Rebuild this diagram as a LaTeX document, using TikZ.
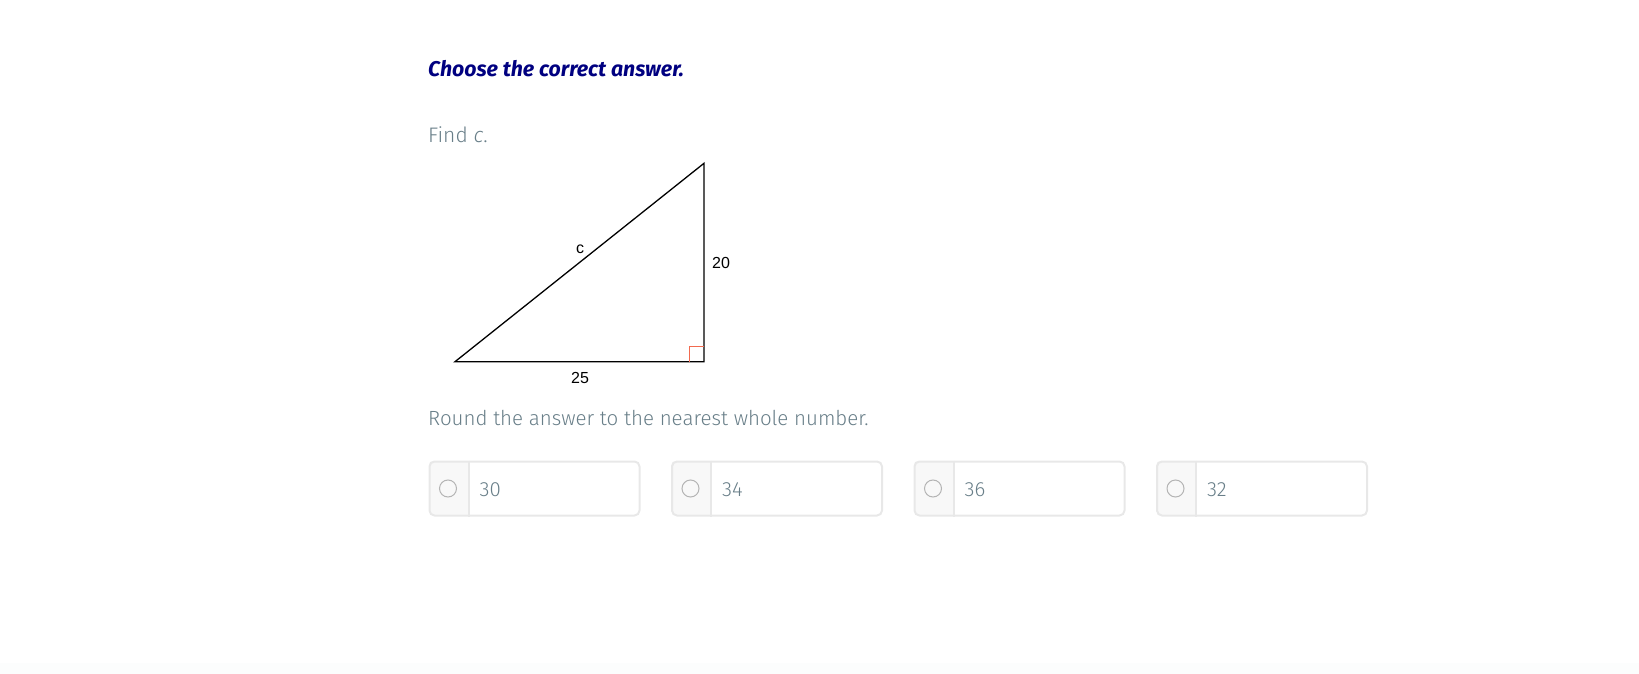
\documentclass[tikz,border=0pt]{standalone}
\usepackage{fontspec}
\setmainfont{Fira Sans}[UprightFont=* Light, ItalicFont=* Light Italic]
\newfontfamily\headfont{Fira Sans}
\newfontfamily\labelfont{Liberation Sans}
\definecolor{navy}{HTML}{000080}
\definecolor{slate}{HTML}{687E88}
\definecolor{boxline}{HTML}{E8E8E8}
\definecolor{cellfill}{HTML}{F8F8F8}
\definecolor{radioline}{HTML}{B4B4B4}
\definecolor{anglered}{HTML}{F26A4F}
\definecolor{footfill}{HTML}{FCFDFD}
\tikzset{
  prompt/.style={anchor=base west, inner sep=0pt, text=slate, font=\fontsize{21}{25}\selectfont},
  sidelabel/.style={anchor=base, inner sep=0pt, font=\labelfont\fontsize{16}{19}\selectfont},
  choicebox/.style={draw=boxline, line width=2pt, rounded corners=5pt, minimum width=210pt, minimum height=54pt, anchor=north west, inner sep=0pt},
  radio/.style={circle, draw=radioline, line width=1pt, minimum size=17pt, inner sep=0pt},
  choicetext/.style={anchor=base west, inner sep=0pt, text=slate, font=\fontsize{20.5}{24}\selectfont}
}

\begin{document}
\begin{tikzpicture}[x=1pt, y=-1pt]
  \useasboundingbox (0,0) rectangle (1639,674);
  \fill[footfill] (0,663) rectangle (1639,674);

  \node[anchor=base west, inner sep=0pt, text=navy, font=\headfont\fontsize{21.3}{26}\selectfont\bfseries\itshape] (title) at (428,76.7) {Choose the correct answer.};
  \node[prompt] (find) at (428,142.7) {Find \textit{c}.};

  \coordinate (A) at (455,361.7);
  \coordinate (B) at (704,361.7);
  \coordinate (C) at (704,163.3);
  \draw[line width=1.3pt] (A) -- (B) -- (C) -- cycle;
  \draw[anglered, line width=0.8pt] (B) ++(-15,0) -- ++(0,-15) -- ++(15,0);
  \node[sidelabel] (hyp) at (580,253.3) {c};
  \node[sidelabel] (leg) at (721,268.3) {20};
  \node[sidelabel] (base) at (580,383.3) {25};

  \node[prompt, font=\fontsize{20.5}{25}\selectfont] (round) at (428,425.7) {Round the answer to the nearest whole number.};

  \foreach \val [count=\i] in {30,34,36,32} {
    \pgfmathsetmacro\bx{428.5+242.5*(\i-1)}
    \begin{scope}
      \clip[rounded corners=5pt] (\bx,460.5) rectangle ++(210,54);
      \fill[cellfill] (\bx,460.5) rectangle ++(40,54);
    \end{scope}
    \node[choicebox] (box\i) at (\bx,460.5) {};
    \draw[boxline, line width=2pt] ([xshift=40pt]box\i.north west) -- ([xshift=40pt]box\i.south west);
    \node[radio] (radio\i) at ([xshift=19.5pt]box\i.west) {};
    \node[choicetext] (val\i) at ([xshift=51pt, yshift=-7.5pt]box\i.west) {\val};
  }
\end{tikzpicture}
\end{document}
